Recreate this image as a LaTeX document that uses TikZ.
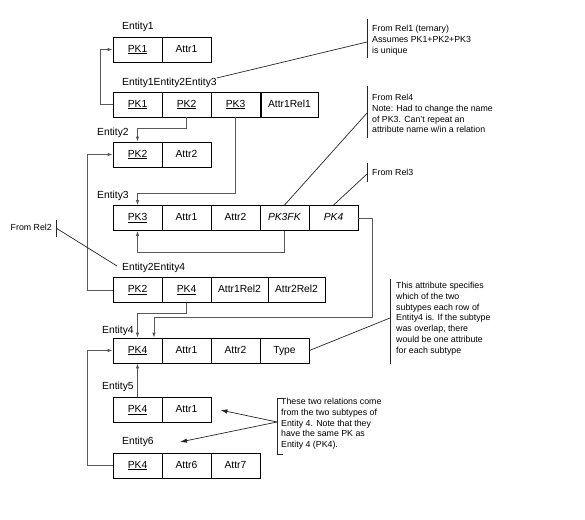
\documentclass[tikz,border=0pt]{standalone}
\usepackage{fontspec}
\setmainfont{Liberation Sans}
\usetikzlibrary{arrows.meta}

\tikzset{
  cell/.style={draw, line width=0.8pt, minimum width=49pt, minimum height=25pt, inner sep=0pt,
    text height=7.4pt, text depth=2.2pt, font=\fontsize{10.3}{12}\selectfont},
  wide/.style={cell, minimum width=57pt},
  lbl/.style={anchor=west, inner sep=0pt, font=\fontsize{10.3}{12}\selectfont},
  note/.style={anchor=north west, align=left, inner sep=0pt, font=\fontsize{8.8}{10.8}\selectfont},
  link/.style={draw=black!65, line width=0.8pt, -{Latex[length=5pt,width=3.5pt]}},
  tie/.style={draw=black!85, line width=0.7pt},
}

\begin{document}
\begin{tikzpicture}[x=1pt,y=-1pt]
    \useasboundingbox (0,0) rectangle (585,519);
    % tables
    \node (l1) [lbl] at (122,27) {Entity1};
    \node (e1pk1) [cell] at (137.5,49.5) {\underline{PK1}};
    \node (e1a1) [cell] at (186.5,49.5) {Attr1};
    \node (lr1) [lbl] at (122,83) {Entity1Entity2Entity3};
    \node (r1pk1) [cell] at (137.5,104.5) {\underline{PK1}};
    \node (r1pk2) [cell] at (186.5,104.5) {\underline{PK2}};
    \node (r1pk3) [cell] at (235.5,104.5) {\underline{PK3}};
    \node (r1a) [wide] at (289.5,104.5) {Attr1Rel1};
    \node (l2) [lbl] at (97,133) {Entity2};
    \node (e2pk2) [cell] at (137.5,154.5) {\underline{PK2}};
    \node (e2a2) [cell] at (186.5,154.5) {Attr2};
    \node (l3) [lbl] at (97,196) {Entity3};
    \node (e3pk3) [cell] at (137.5,218) {\underline{PK3}};
    \node (e3a1) [cell] at (186.5,218) {Attr1};
    \node (e3a2) [cell] at (235.5,218) {Attr2};
    \node (e3fk) [cell] at (284.5,218) {\textit{PK3FK}};
    \node (e3pk4) [cell] at (333.5,218) {\textit{PK4}};
    \node (lr2) [lbl] at (122,268) {Entity2Entity4};
    \node (r2pk2) [cell] at (137.5,290) {\underline{PK2}};
    \node (r2pk4) [cell] at (186.5,290) {\underline{PK4}};
    \node (r2a1) [wide] at (239.5,290) {Attr1Rel2};
    \node (r2a2) [wide] at (296.5,290) {Attr2Rel2};
    \node (l4) [lbl] at (102,331) {Entity4};
    \node (e4pk4) [cell] at (137.5,350.5) {\underline{PK4}};
    \node (e4a1) [cell] at (186.5,350.5) {Attr1};
    \node (e4a2) [cell] at (235.5,350.5) {Attr2};
    \node (e4t) [cell] at (284.5,350.5) {Type};
    \node (l5) [lbl] at (102,387) {Entity5};
    \node (e5pk4) [cell] at (137.5,410) {\underline{PK4}};
    \node (e5a1) [cell] at (186.5,410) {Attr1};
    \node (l6) [lbl] at (122,442) {Entity6};
    \node (e6pk4) [cell] at (137.5,465.5) {\underline{PK4}};
    \node (e6a6) [cell] at (186.5,465.5) {Attr6};
    \node (e6a7) [cell] at (235.5,465.5) {Attr7};
    % foreign keys
    \draw [link] (r1pk1.west) -- ++(-12,0) |- (e1pk1.west);
    \draw [link] (r1pk2.south) -- ++(0,11) -| (e2pk2.north);
    \draw [link] (r1pk3.south) -- ++(0,76) -| (e3pk3.north);
    \draw [link] (e3fk.south) -- ++(0,21) -| (e3pk3.south);
    \draw [link] (e3pk4.east) -- ++(14,0) -- ++(0,99) -| ([xshift=16.5pt]e4pk4.north);
    \draw [link] (r2pk2.west) -- ++(-25,0) |- (e2pk2.west);
    \draw [link] (r2pk4.south) -- ++(0,10) -| (e4pk4.north);
    \draw [link] (e5pk4.north) -- (e4pk4.south);
    \draw [link] (e6pk4.west) -- ++(-25,0) |- (e4pk4.west);
    % notes
    \node (n1) [note] at (372,25) {From Rel1 (ternary)\\Assumes PK1+PK2+PK3\\is unique};
    \node (n2) [note] at (372,94) {From Rel4\\Note: Had to change the name\\of PK3. Can't repeat an\\attribute name w/in a relation};
    \node (n3) [note] at (372,169) {From Rel3};
    \node (n4) [note] at (396,282) {This attribute specifies\\which of the two\\subtypes each row of\\Entity4 is. If the subtype\\was overlap, there\\would be one attribute\\for each subtype};
    \node (n5) [note] at (281,398) {These two relations come\\from the two subtypes of\\Entity 4. Note that they\\have the same PK as\\Entity 4 (PK4).};
    \node (n0) [anchor=east, inner sep=0pt, font=\fontsize{8.8}{10.8}\selectfont] at (52,227) {From Rel2};
    \coordinate (c1) at (367,42);
    \coordinate (c2) at (367,113);
    \coordinate (c3) at (367,174);
    \coordinate (c4) at (390,318);
    \coordinate (c0) at (56,228);
    \coordinate (c5) at (277,422);
    \coordinate (t6) at (180,442);
    \draw [tie] (367,19) -- (367,58);
    \draw [tie] (367,86) -- (367,138);
    \draw [tie] (367,163) -- (367,182);
    \draw [tie] (390,279) -- (390,364);
    \draw [tie] (56,220) -- (56,237);
    \draw [tie] (283,398) -- (277,398) -- (277,454) -- (283,454);
    \draw [tie] (lr1.north east) -- (c1);
    \draw [tie] (e3fk.north) -- (c2);
    \draw [tie] (e3pk4.north) -- (c3);
    \draw [tie] (e4t.east) -- (c4);
    \draw [tie] (c0) -- ([shift={(-5pt,-3pt)}]lr2.north west);
    \draw [tie, -{Latex[length=7pt,width=4.5pt]}] (c5) -- ([xshift=9pt]e5a1.east);
    \draw [tie, -{Latex[length=7pt,width=4.5pt]}] (c5) -- (t6);
\end{tikzpicture}
\end{document}
